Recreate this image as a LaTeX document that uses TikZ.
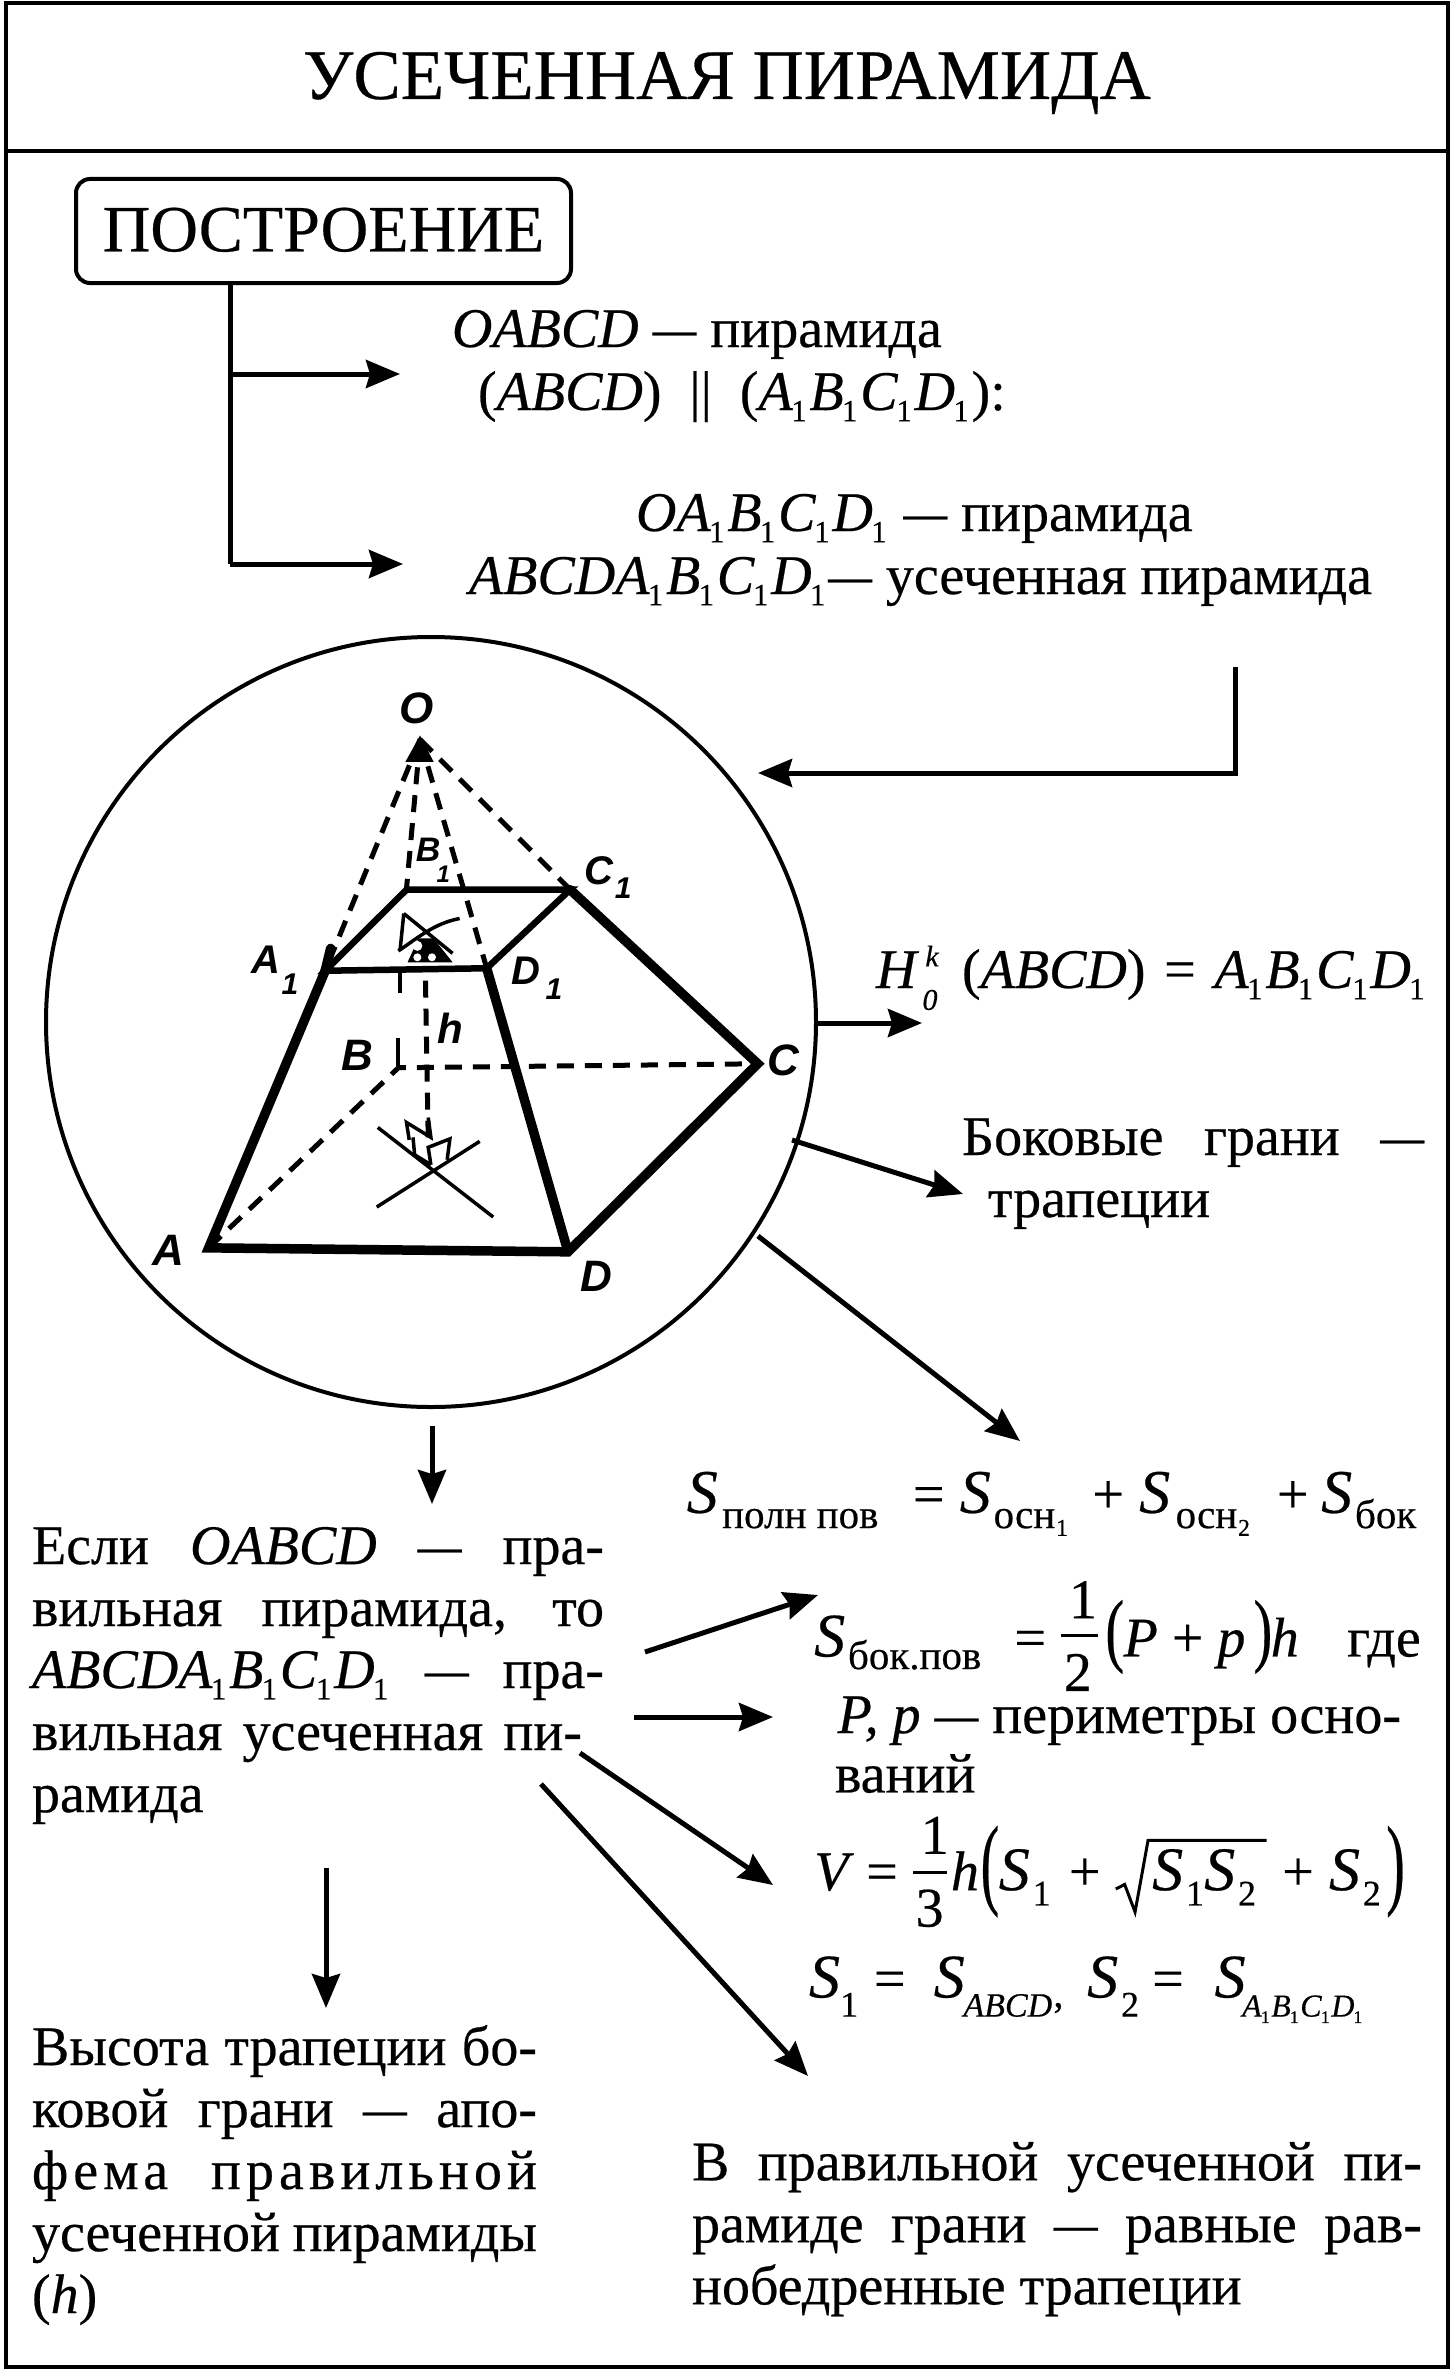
\documentclass[tikz,border=0pt]{standalone}
\usepackage{graphicx}
\usepackage{fontspec}
\setmainfont[FakeBold=0.4]{Liberation Serif}
\newfontfamily\lab{Liberation Sans}
\usetikzlibrary{arrows.meta}
\newcommand\sz[2]{\fontsize{#1}{#2}\selectfont}
\newcommand\sbs[1]{\kern-.03em\raisebox{-0.2em}{\scalebox{0.55}{#1}}\kern.05em}
\newcommand\I[1]{\textit{#1}}
\newcommand\Ao{\I{A}\sbs{1}}
\newcommand\Bo{\I{B}\sbs{1}}
\newcommand\Co{\I{C}\sbs{1}}
\newcommand\Dd{\I{D}\sbs{1}}
\newcommand\dsh{\scalebox{.78}[1]{—}}
\newcommand\T[4]{\node[tx] (#1) at (#2,#3) {#4};}
\newcommand\LL[5]{\node[lb] (#1) at (#2,#3) {\sz{#5}{#5}\selectfont #4};}
\newcommand\J[2]{\makebox[#1][s]{#2}}
\tikzset{
  frameline/.style={line width=4pt},
  arr/.style={line width=5pt,-{Stealth[length=34pt,width=28pt,inset=4pt]}},
  tx/.style={anchor=base west,inner sep=0pt,outer sep=0pt,font=\sz{56}{62}},
  block/.style={anchor=north west,inner sep=0pt,outer sep=0pt,align=left,font=\sz{56}{62}},
  lb/.style={inner sep=0pt,outer sep=0pt,font=\lab\bfseries\itshape},
  thick3/.style={line width=9.5pt,line join=miter},
  thick2/.style={line width=6.5pt},
  dashln/.style={line width=5pt,dash pattern=on 17pt off 11pt},
  fine/.style={line width=3.5pt},
}
\begin{document}
\begin{tikzpicture}[x=1pt,y=-1pt]
\useasboundingbox (0,0) rectangle (1455,2376);
\fill[white] (0,0) rectangle (1455,2376);
% frame
\coordinate (fTL) at (6,3); \coordinate (fBR) at (1448,2367);
\draw[frameline] (fTL) rectangle (fBR);
\coordinate (tL) at (6,151); \coordinate (tR) at (1448,151);
\draw[frameline] (tL) -- (tR);
\node[inner sep=0pt,font=\sz{71}{80}] (title) at (727,83) {УСЕЧЕННАЯ ПИРАМИДА};
% construction
\node[draw,line width=4pt,rounded corners=14pt,minimum width=495pt,minimum height=104pt,inner sep=0pt,font=\sz{66}{70}] (build) at (323.5,231) {\raisebox{3pt}{ПОСТРОЕНИЕ}};
\coordinate (bs) at (230,283);
\coordinate (b1) at (230,374); \coordinate (b1t) at (400,374);
\coordinate (b2) at (230,564); \coordinate (b2t) at (403,564);
\draw[line width=5pt] (bs) -- (b2);
\draw[arr] (b1) -- (b1t);
\draw[arr] (b2) -- (b2t);
\T{t1}{452}{347}{\I{OABCD} \dsh\ пирамида}
\T{t2}{478}{410}{(\I{ABCD})\ \ ||\ \ (\Ao\Bo\Co\Dd):}
\T{t3}{636}{531}{\I{OA}\sbs{1}\Bo\Co\Dd\ \dsh\ пирамида}
\T{t4}{469}{594}{\I{ABCDA}\sbs{1}\Bo\Co\Dd\dsh\ усеченная пирамида}
\coordinate (r1) at (1235,667); \coordinate (r2) at (1235,773); \coordinate (r3) at (758,773);
\draw[arr] (r1) -- (r2) -- (r3);
% circle
\coordinate (cc) at (431,1022);
\draw[line width=4pt] (cc) circle (385pt);
% pyramid: zoom coordinates
\begin{scope}[x=0.542pt,y=-0.4975pt,shift={(0pt,-620pt)}]
\coordinate (O) at (775,240);
\coordinate (A) at (385,1262);
\coordinate (B) at (735,900);
\coordinate (C) at (1398,892);
\coordinate (D) at (1048,1270);
\coordinate (A1) at (600,705);
\coordinate (B1) at (750,542);
\coordinate (C1) at (1052,542);
\coordinate (D1) at (898,700);
\draw[dashln] (A) -- (B) -- (C);
\draw[dashln] (O) -- (A1);
\draw[dashln] (O) -- (750,540);
\draw[dashln] (O) -- (D1);
\draw[dashln] (O) -- (C1);
\draw[dashln] (785,725) -- (790,1040);
\draw[line width=4pt] (738,710) -- (738,750);
\draw[line width=4pt] (735,840) -- (735,900);
\fill (775,232) -- (748,285) -- (800,285) -- cycle;
\draw[thick3,line cap=round] (A1) -- (A) -- (D) -- (C) -- (C1);
\draw[thick3] (D) -- (D1);
\draw[thick2] (A1) -- (B1) -- (C1) -- (D1) -- (A1) -- cycle;
\draw[thick3,line cap=round] (A1) -- (610,660);
% upper X
\draw[fine] (745,590) -- (835,670);
\draw[fine] (848,600) .. controls (800,610) and (770,640) .. (735,665);
\draw[fine] (745,590) -- (738,665);
\fill (752,688) -- (772,640) -- (800,640) -- (835,688) -- cycle;
\fill[white] (770,655) circle (5pt);
\fill[white] (770,678) circle (4pt);
\fill[white] (797,678) circle (4pt);
% lower X
\draw[fine] (697,1020) -- (910,1200);
\draw[fine] (885,1048) -- (695,1180);
\draw[fine] (755,1045) -- (750,1010) -- (795,1040) -- (790,1000);
\draw[fine] (762,1040) -- (765,1075) -- (795,1095);
\draw[fine] (795,1095) -- (790,1060) -- (830,1043) -- (825,1085);
% labels
\LL{lO}{768}{178}{O}{44}
\LL{lB1}{790}{462}{B}{34}
\LL{lB1s}{818}{512}{1}{24}
\LL{lC1}{1105}{503}{C}{40}
\LL{lC1s}{1150}{540}{1}{30}
\LL{lA1}{490}{682}{A}{40}
\LL{lA1s}{535}{732}{1}{30}
\LL{lD1}{970}{705}{D}{40}
\LL{lD1s}{1022}{742}{1}{30}
\LL{lh}{830}{820}{h}{42}
\LL{lB}{660}{875}{B}{44}
\LL{lC}{1445}{885}{C}{44}
\LL{lA}{310}{1268}{A}{44}
\LL{lD}{1100}{1320}{D}{44}
\end{scope}
% right side arrows
\coordinate (h1) at (816,1023); \coordinate (h2) at (922,1023);
\draw[arr] (h1) -- (h2);
\coordinate (g1) at (792,1140); \coordinate (g2) at (963,1194);
\draw[arr] (g1) -- (g2);
\coordinate (s1) at (758,1236); \coordinate (s2) at (1020,1441);
\draw[arr] (s1) -- (s2);
\coordinate (d1) at (432,1426); \coordinate (d2) at (432,1504);
\draw[arr] (d1) -- (d2);
% H formula
\T{th}{876}{988}{\I{H}}
\node[inner sep=0pt,font=\sz{30}{30}\itshape] (thk) at (932,956) {k};
\node[inner sep=0pt,font=\sz{30}{30}\itshape] (tho) at (930,1000) {0};
\T{thr}{962}{988}{(\I{ABCD})\,\,=\,\,\Ao\Bo\Co\Dd}
\T{tg1}{962}{1155}{\J{462pt}{Боковые грани \dsh}}
\T{tg2}{988}{1217}{трапеции}
% left block
\node[block] (leftb) at (32,1527) {\J{572pt}{Если \I{OABCD} \dsh\ пра-}\\\J{572pt}{вильная пирамида, то}\\\J{572pt}{\I{ABCDA}\sbs{1}\Bo\Co\Dd\ \dsh\ пра-}\\\J{550pt}{вильная усеченная пи-}\\рамида};
\coordinate (la) at (645,1652); \coordinate (lat) at (818,1595);
\coordinate (lb) at (634,1717); \coordinate (lbt) at (773,1717);
\coordinate (lc) at (580,1753); \coordinate (lct) at (773,1885);
\coordinate (ld) at (541,1784); \coordinate (ldt) at (808,2076);
\draw[arr] (la) -- (lat);
\draw[arr] (lb) -- (lbt);
\draw[arr] (lc) -- (lct);
\draw[arr] (ld) -- (ldt);
\coordinate (e1) at (326,1868); \coordinate (e2) at (326,2008);
\draw[arr] (e1) -- (e2);
\node[block] (lowb) at (32,2025) {\J{505pt}{Высота трапеции бо-}\\\J{505pt}{ковой грани \dsh\ апо-}\\\J{505pt}{\addfontfeatures{LetterSpace=9}фема правильной}\\\J{505pt}{усеченной пирамиды}\\(\I{h})};
\node[block] (rowb) at (692,2142) {\J{730pt}{В правильной усеченной пи-}\\\J{730pt}{рамиде грани \dsh\ равные рав-}\\нобедренные трапеции};
% formulas: second zoom coordinates
\begin{scope}[x=0.52pt,y=-0.3831pt,shift={(640pt,-1440pt)}]
\newcommand\Ss[3]{\node[tx,font=\sz{62}{62}\itshape] (#1) at (#2,#3) {S};}
\Ss{f1a}{90}{190}
\node[tx,font=\sz{41}{41}] (f1b) at (158,230) {полн пов};
\T{f1c}{525}{190}{=}
\Ss{f1d}{615}{190}
\node[tx,font=\sz{41}{41}] (f1e) at (680,230) {осн};
\node[tx,font=\sz{24}{24}] (f1f) at (800,250) {1};
\T{f1g}{870}{190}{+}
\Ss{f1h}{960}{190}
\node[tx,font=\sz{41}{41}] (f1i) at (1030,230) {осн};
\node[tx,font=\sz{24}{24}] (f1j) at (1150,250) {2};
\T{f1k}{1225}{190}{+}
\Ss{f1l}{1310}{190}
\node[tx,font=\sz{41}{41}] (f1m) at (1375,230) {бок};
% S bok
\Ss{f2a}{335}{565}
\node[tx,font=\sz{41}{41}] (f2b) at (400,598) {бок.пов};
\T{f2c}{720}{565}{=}
\coordinate (b2l) at (810,510); \coordinate (b2r) at (880,510);
\draw[line width=3pt] (b2l) -- (b2r);
\T{f2d}{825}{465}{1}
\T{f2e}{815}{655}{2}
\node[tx] (f2f) at (895,565) {\scalebox{1}[1.45]{(}};
\T{f2g}{930}{565}{\I{P} + \I{p}}
\node[tx] (f2h) at (1180,565) {\scalebox{1}[1.45]{)}};
\T{f2i}{1213}{565}{\I{h}}
\T{f2j}{1360}{565}{где}
\T{f3a}{380}{765}{\I{P, p} \dsh\ периметры осно-}
\T{f3b}{375}{920}{ваний}
% V
\T{f4a}{335}{1175}{\I{V}}
\T{f4b}{435}{1175}{=}
\coordinate (b3l) at (525,1130); \coordinate (b3r) at (590,1130);
\draw[line width=3pt] (b3l) -- (b3r);
\T{f4c}{540}{1080}{1}
\T{f4d}{530}{1270}{3}
\T{f4e}{598}{1175}{\I{h}}
\node[tx] (f4f) at (655,1190) {\scalebox{1}[1.8]{(}};
\Ss{f4g}{690}{1175}
\node[tx,font=\sz{36}{36}] (f4h) at (755,1215) {1};
\T{f4i}{825}{1175}{+}
\coordinate (q1) at (915,1172); \coordinate (q2) at (932,1160); \coordinate (q3) at (952,1232); \coordinate (q4) at (977,1045); \coordinate (q5) at (1205,1045);
\draw[line width=3pt] (q1) -- (q2) -- (q3) -- (q4) -- (q5);
\Ss{f4j}{985}{1175}
\node[tx,font=\sz{36}{36}] (f4k) at (1050,1215) {1};
\Ss{f4l}{1085}{1175}
\node[tx,font=\sz{36}{36}] (f4m) at (1150,1215) {2};
\T{f4n}{1235}{1175}{+}
\Ss{f4o}{1325}{1175}
\node[tx,font=\sz{36}{36}] (f4p) at (1390,1215) {2};
\node[tx] (f4q) at (1435,1190) {\scalebox{1}[1.8]{)}};
% S1 S2
\Ss{f5a}{325}{1455}
\node[tx,font=\sz{36}{36}] (f5b) at (385,1505) {1};
\T{f5c}{450}{1455}{=}
\Ss{f5d}{565}{1455}
\node[tx,font=\sz{34}{34}\itshape] (f5e) at (622,1505) {ABCD};
\T{f5f}{795}{1480}{\sz{40}{40},}
\Ss{f5g}{860}{1455}
\node[tx,font=\sz{36}{36}] (f5h) at (925,1505) {2};
\T{f5i}{985}{1455}{=}
\Ss{f5j}{1105}{1455}
\node[tx,font=\sz{32}{32}] (f5k) at (1158,1505) {\Ao\Bo\Co\Dd};
\end{scope}
\end{tikzpicture}
\end{document}
